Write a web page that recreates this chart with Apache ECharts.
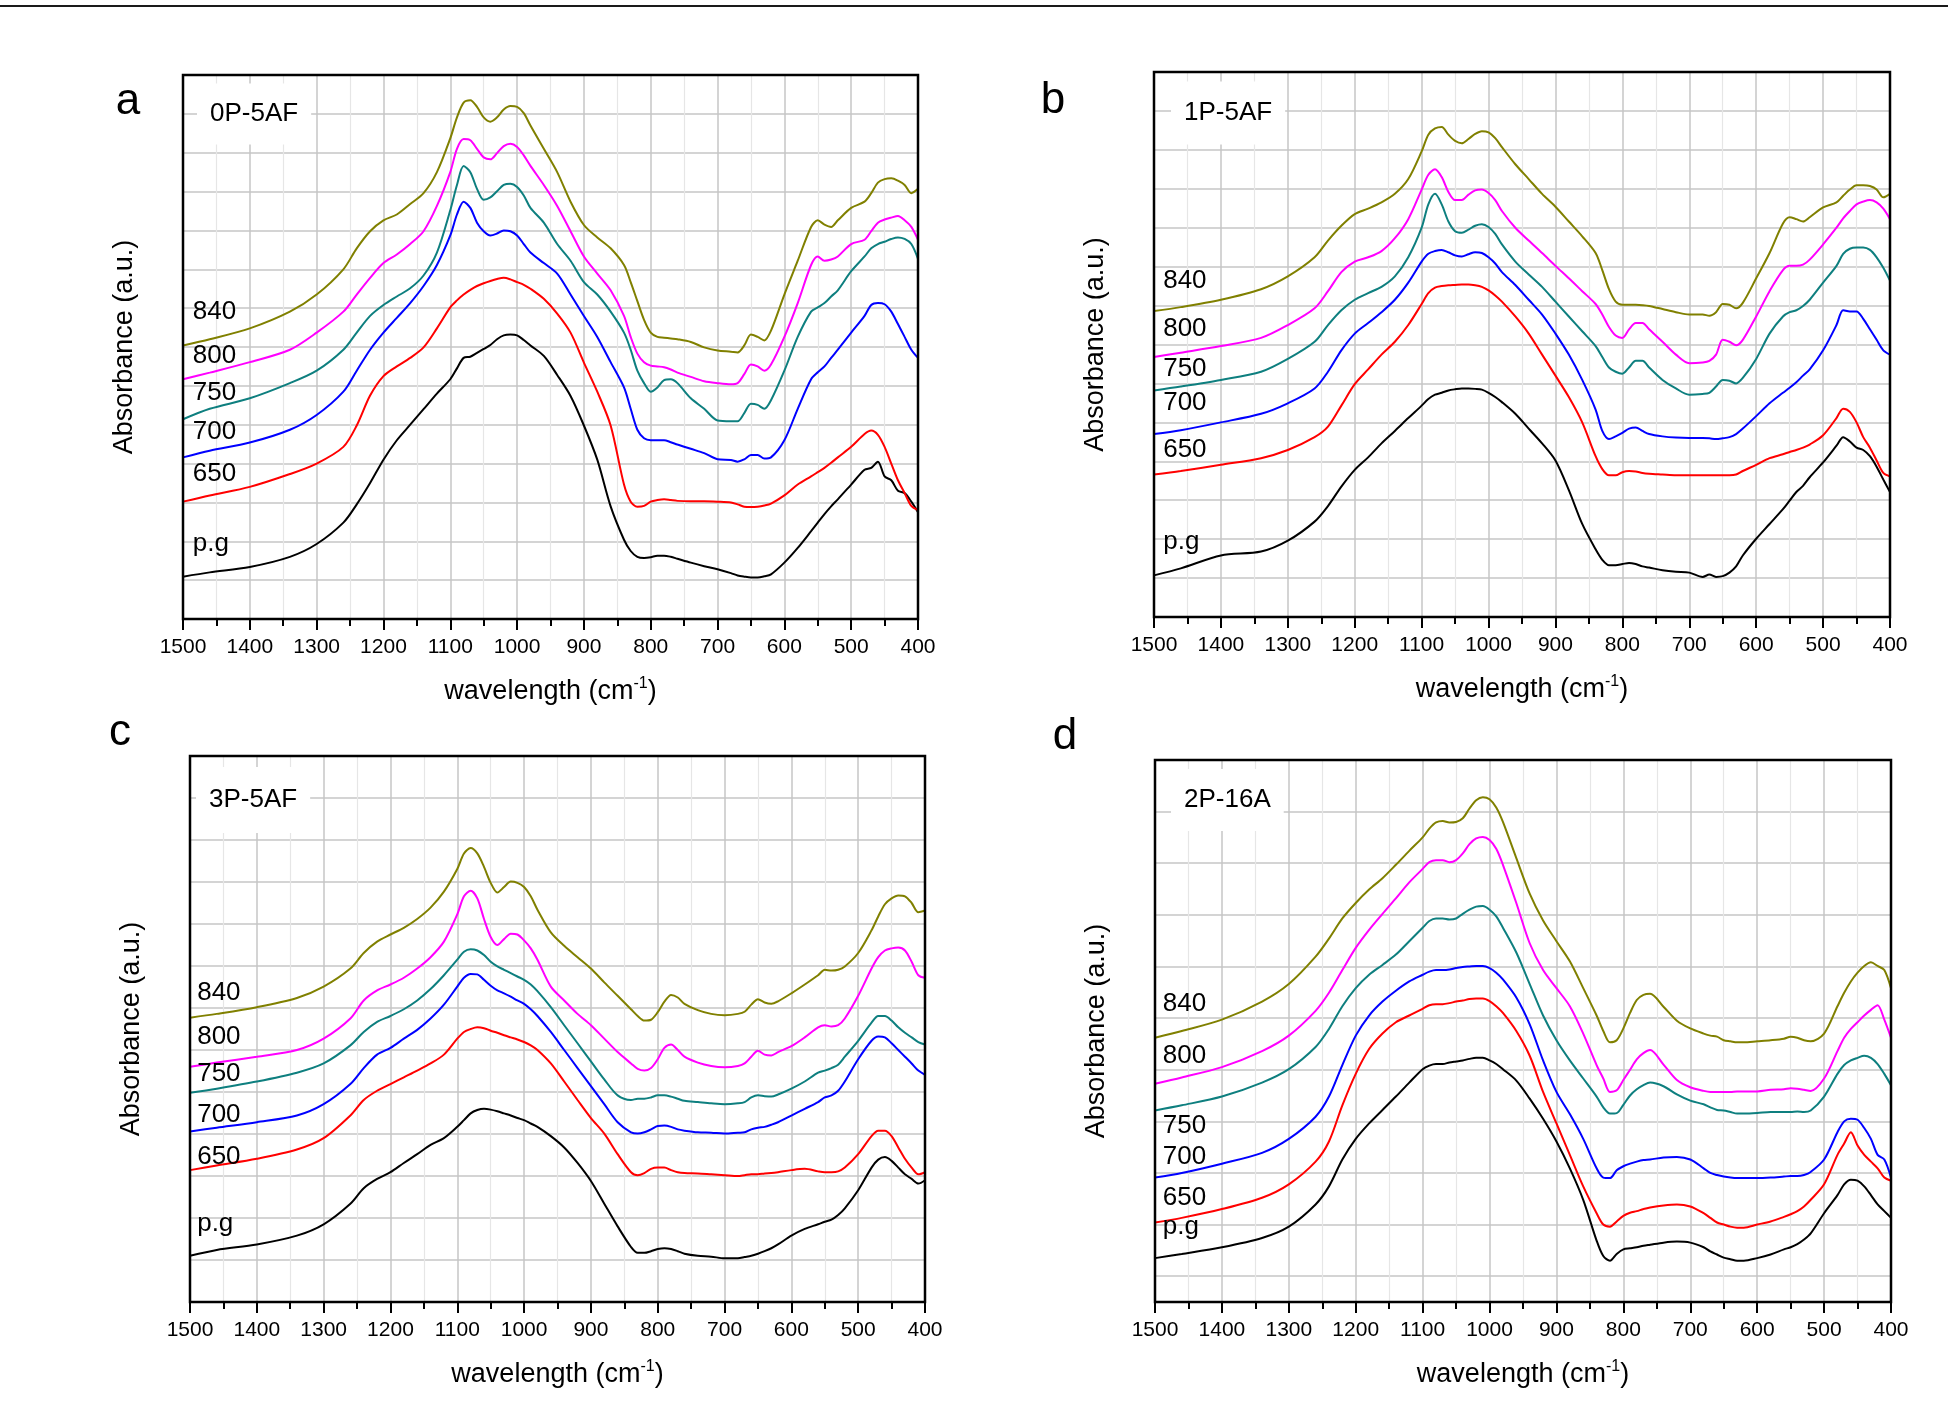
<!DOCTYPE html>
<html><head><meta charset="utf-8">
<script src="https://cdn.jsdelivr.net/npm/echarts@6/dist/echarts.min.js"></script>
<style>html,body{margin:0;padding:0;background:#fff}#c{width:1948px;height:1406px}</style>
</head><body><div id="c"></div>
<script>
// wavenumber sample positions (cm-1)
const X = [1500,1460,1400,1340,1300,1260,1240,1220,1200,1180,1160,1140,1120,1100,1090,1080,1070,1060,1050,1040,1030,1020,1010,1000,990,980,960,940,920,900,880,860,840,830,820,810,800,790,780,770,760,740,720,700,680,670,660,650,640,630,620,600,580,560,550,540,530,520,500,480,470,460,450,440,430,420,410,400];
const X_TICKS = [1500,1400,1300,1200,1100,1000,900,800,700,600,500,400];
const SERIES_NAMES = ['p.g','650','700','750','800','840'];

// Panel a: 0P-5AF
const A_PG  = [1.09,1.2,1.34,1.6,1.93, 2.48,2.95,3.5,4.1,4.6,5.0,5.4,5.8,6.17, 6.45,6.72,6.75,6.85,6.95,7.05,7.2,7.3,7.32,7.3,7.18,7.04, 6.77,6.28,5.74,4.98,4.1,2.9,2.04, 1.75,1.6,1.57,1.59,1.63,1.63,1.6,1.55, 1.45,1.36,1.28,1.18, 1.12,1.09,1.07,1.07,1.1,1.15, 1.45,1.83,2.26,2.48,2.7,2.9,3.08, 3.46,3.84,3.89,4.05,3.67,3.57,3.3,3.24,3.02,2.75];
const A_650 = [3.02,3.18,3.4,3.73,4.0, 4.43,4.98,5.75,6.25,6.5,6.72,6.99,7.48,8.02, 8.2,8.35,8.47,8.57,8.64,8.7,8.75,8.78,8.74,8.67,8.6,8.5, 8.24,7.86,7.37,6.6,5.85,4.98,3.46, 3.02,2.89,2.91,3.02,3.06,3.08,3.06,3.04, 3.03,3.03,3.02,3.0, 2.95,2.89,2.88,2.89,2.92,2.97, 3.18,3.46,3.67,3.78,3.89,4.02,4.16, 4.43,4.76,4.85,4.74,4.43,4.0,3.57,3.24,2.91,2.8];
const A_700 = [4.16,4.33,4.54,4.87,5.25, 5.85,6.39,6.93,7.37,7.75,8.13,8.57,9.11,9.87, 10.41,10.74,10.58,10.2,9.98,9.87,9.92,10.0,9.98,9.87,9.65,9.43, 9.16,8.89,8.35,7.8,7.26,6.61,5.96, 5.41,4.87,4.65,4.6,4.6,4.6,4.55,4.49, 4.38,4.27,4.11,4.09, 4.05,4.11,4.22,4.22,4.13,4.16, 4.6,5.41,6.17,6.35,6.5,6.72,6.93, 7.37,7.8,8.08,8.13,8.1,7.91,7.59,7.26,6.93,6.72];
const A_750 = [5.14,5.41,5.68,6.07,6.39, 6.93,7.37,7.8,8.08,8.3,8.51,8.84,9.43,10.52, 11.17,11.66,11.5,11.07,10.79,10.85,11.01,11.17,11.2,11.12,10.9,10.58, 10.2,9.65,9.22,8.67,8.35,7.91,7.37, 6.93,6.39,6.07,5.85,5.96,6.15,6.17,6.07, 5.68,5.41,5.11,5.09, 5.09,5.3,5.54,5.51,5.41,5.63, 6.39,7.26,7.91,8.02,8.13,8.3,8.46, 8.95,9.33,9.54,9.65,9.71,9.78,9.82,9.78,9.65,9.27];
const A_800 = [6.17,6.34,6.61,6.93,7.37, 7.91,8.35,8.78,9.16,9.38,9.65,9.98,10.63,11.5, 12.1,12.35,12.32,12.1,11.88,11.83,11.99,12.17,12.23,12.15,11.93,11.66, 11.17,10.63,9.98,9.33,8.89,8.46,7.8, 7.26,6.83,6.61,6.52,6.5,6.48,6.42,6.34, 6.23,6.12,6.07,6.04, 6.07,6.3,6.55,6.5,6.39,6.55, 7.26,8.13,9.11,9.33,9.22,9.25,9.33, 9.65,9.76,9.98,10.2,10.28,10.33,10.37,10.26,10.09,9.76];
const A_840 = [7.04,7.2,7.48,7.91,8.35, 9.0,9.54,9.98,10.26,10.41,10.68,10.96,11.5,12.37, 12.91,13.29,13.35,13.18,12.91,12.8,12.91,13.11,13.2,13.18,13.02,12.7, 12.1,11.5,10.74,10.14,9.82,9.54,9.11, 8.67,8.18,7.7,7.37,7.26,7.24,7.22,7.2, 7.13,6.99,6.91,6.88, 6.86,7.04,7.32,7.26,7.17,7.42, 8.35,9.22,10.09,10.26,10.15,10.09,10.26, 10.58,10.74,10.96,11.23,11.32,11.34,11.28,11.17,10.96,11.07];

// Panel b: 1P-5AF
const B_PG  = [1.07,1.25,1.58,1.68,1.96, 2.45,2.85,3.35,3.78,4.1,4.46,4.78,5.11,5.43, 5.6,5.71,5.76,5.82,5.85,5.87,5.87,5.86,5.84,5.76,5.65,5.52, 5.22,4.84,4.46,4.02,3.26,2.39,1.74, 1.47,1.33,1.33,1.36,1.39,1.36,1.3,1.27, 1.2,1.16,1.14,1.03, 1.09,1.03,1.05,1.14,1.3,1.58, 2.01,2.39,2.77,2.99,3.21,3.37,3.59, 3.97,4.4,4.62,4.51,4.35,4.29,4.13,3.86,3.53,3.21];
const B_650 = [3.66,3.75,3.91,4.08,4.29, 4.62,4.89,5.43,5.98,6.36,6.74,7.07,7.5,8.04, 8.32,8.46,8.5,8.52,8.53,8.54,8.54,8.52,8.48,8.39,8.26,8.1, 7.72,7.28,6.74,6.2,5.65,5.0,4.13, 3.8,3.64,3.64,3.72,3.75,3.74,3.7,3.68, 3.66,3.64,3.64,3.64, 3.64,3.64,3.64,3.64,3.66,3.75, 3.91,4.08,4.18,4.24,4.29,4.35,4.43, 4.67,5.11,5.35,5.27,5.0,4.62,4.35,4.02,3.7,3.61];
const B_700 = [4.7,4.8,5.0,5.22,5.49, 5.87,6.3,6.85,7.28,7.55,7.83,8.15,8.59,9.13, 9.33,9.4,9.43,9.37,9.29,9.26,9.32,9.37,9.35,9.24,9.08,8.86, 8.53,8.15,7.77,7.28,6.74,6.09,5.33, 4.78,4.57,4.64,4.73,4.84,4.87,4.78,4.7, 4.64,4.61,4.6,4.6, 4.59,4.57,4.59,4.62,4.7,4.84, 5.16,5.49,5.76,5.89,6.03,6.2,6.36, 6.85,7.5,7.88,7.85,7.85,7.66,7.39,7.12,6.85,6.74];
const B_750 = [5.82,5.92,6.09,6.3,6.63, 7.07,7.5,7.88,8.15,8.32,8.48,8.75,9.24,10.0, 10.6,10.87,10.6,10.16,9.91,9.87,9.95,10.05,10.09,10.02,9.84,9.57, 9.13,8.8,8.48,8.1,7.72,7.34,6.96, 6.68,6.41,6.3,6.25,6.41,6.58,6.58,6.41, 6.09,5.87,5.71,5.73, 5.76,5.92,6.09,6.07,6.0,6.14, 6.63,7.28,7.72,7.83,7.88,7.99,8.15, 8.59,9.02,9.33,9.46,9.49,9.49,9.43,9.24,8.97,8.64];
const B_800 = [6.68,6.79,6.96,7.17,7.5, 7.93,8.37,8.86,9.13,9.24,9.4,9.73,10.22,10.98, 11.36,11.5,11.3,10.92,10.71,10.71,10.85,10.96,10.98,10.89,10.71,10.43, 10.0,9.67,9.35,9.02,8.7,8.37,8.04, 7.77,7.45,7.23,7.17,7.39,7.55,7.55,7.39, 7.07,6.74,6.52,6.54, 6.58,6.74,7.12,7.07,6.98,7.12, 7.72,8.37,8.91,9.02,9.02,9.05,9.18, 9.57,10.0,10.24,10.43,10.6,10.67,10.71,10.65,10.49,10.22];
const B_840 = [7.86,7.96,8.15,8.42,8.75, 9.24,9.67,10.05,10.35,10.49,10.65,10.87,11.25,11.96, 12.39,12.55,12.59,12.39,12.23,12.17,12.28,12.41,12.48,12.45,12.3,12.07, 11.63,11.25,10.87,10.54,10.16,9.78,9.35, 8.91,8.42,8.1,8.02,8.02,8.02,8.01,7.99, 7.91,7.83,7.77,7.77, 7.74,7.83,8.04,8.02,7.93,8.07, 8.7,9.35,10.11,10.27,10.22,10.16,10.27, 10.52,10.65,10.82,10.98,11.09,11.09,11.07,10.98,10.78,10.87];

// Panel c: 3P-5AF
const C_PG  = [1.1,1.24,1.37,1.58,1.85, 2.34,2.71,2.93,3.09,3.31,3.52,3.74,3.9,4.17, 4.33,4.49,4.57,4.6,4.58,4.54,4.49,4.44,4.38,4.33,4.25,4.17, 3.95,3.68,3.31,2.88,2.34,1.8,1.31, 1.17,1.17,1.21,1.26,1.28,1.26,1.21,1.15, 1.1,1.08,1.04,1.04, 1.07,1.1,1.15,1.21,1.28,1.37, 1.58,1.74,1.85,1.91,1.96,2.07,2.23, 2.66,3.2,3.39,3.45,3.36,3.2,3.04,2.93,2.82,2.9];
const C_650 = [3.14,3.25,3.41,3.63,3.9, 4.44,4.81,5.03,5.19,5.35,5.51,5.68,5.89,6.27, 6.43,6.5,6.54,6.52,6.46,6.41,6.35,6.3,6.25,6.19,6.11,6.0, 5.68,5.25,4.81,4.38,4.01,3.52,3.09, 3.02,3.07,3.17,3.2,3.2,3.14,3.09,3.07, 3.06,3.04,3.02,3.0, 3.02,3.04,3.04,3.06,3.07,3.09, 3.14,3.17,3.11,3.09,3.09,3.11,3.2, 3.52,3.95,4.08,4.08,3.95,3.68,3.41,3.2,3.04,3.09];
const C_700 = [4.06,4.15,4.28,4.44,4.71, 5.19,5.57,5.89,6.05,6.27,6.48,6.75,7.08,7.51, 7.72,7.81,7.8,7.67,7.53,7.42,7.35,7.27,7.18,7.1,6.97,6.81, 6.43,6.0,5.57,5.14,4.71,4.28,4.04, 4.01,4.04,4.11,4.19,4.2,4.17,4.11,4.08, 4.04,4.03,4.01,4.03, 4.04,4.11,4.15,4.17,4.22,4.28, 4.44,4.6,4.76,4.87,4.92,5.03,5.25, 5.78,6.22,6.32,6.3,6.16,6.0,5.84,5.68,5.51,5.41];
const C_750 = [4.98,5.08,5.25,5.46,5.68, 6.11,6.43,6.67,6.81,6.97,7.18,7.45,7.78,8.15, 8.34,8.4,8.37,8.26,8.1,7.99,7.91,7.83,7.75,7.67,7.56,7.4, 7.02,6.59,6.16,5.73,5.3,4.92,4.81, 4.84,4.84,4.87,4.92,4.92,4.89,4.84,4.79, 4.76,4.73,4.71,4.73, 4.76,4.87,4.92,4.9,4.89,4.94, 5.08,5.25,5.46,5.51,5.57,5.65,5.84, 6.22,6.65,6.81,6.81,6.7,6.54,6.41,6.3,6.19,6.13];
const C_800 = [5.6,5.7,5.84,6.0,6.27, 6.75,7.18,7.42,7.56,7.72,7.94,8.21,8.58,9.23, 9.66,9.79,9.61,9.12,8.69,8.5,8.64,8.77,8.75,8.61,8.42,8.15, 7.51,7.18,6.86,6.59,6.27,5.95,5.68, 5.55,5.51,5.57,5.78,6.05,6.13,6.0,5.84, 5.7,5.62,5.59,5.62, 5.68,5.84,5.98,5.89,5.87,5.95, 6.09,6.3,6.54,6.59,6.56,6.59,6.75, 7.29,7.94,8.21,8.37,8.42,8.44,8.37,8.1,7.78,7.72];
const C_840 = [6.77,6.86,7.02,7.24,7.51, 7.94,8.31,8.58,8.75,8.91,9.12,9.39,9.77,10.31, 10.68,10.81,10.68,10.36,9.98,9.75,9.88,10.01,9.98,9.88,9.66,9.34, 8.8,8.48,8.21,7.94,7.61,7.29,6.97, 6.81,6.7,6.72,6.9,7.15,7.31,7.25,7.1, 6.95,6.86,6.83,6.86, 6.91,7.08,7.21,7.13,7.1,7.16, 7.35,7.56,7.78,7.91,7.89,7.91,7.99, 8.31,8.85,9.18,9.47,9.61,9.68,9.66,9.5,9.28,9.32];

// Panel d: 2P-16A
const D_PG  = [0.85,0.93,1.06,1.24,1.46, 1.89,2.24,2.76,3.16,3.46,3.72,3.98,4.25,4.51, 4.58,4.61,4.61,4.64,4.66,4.68,4.71,4.73,4.73,4.68,4.61,4.51, 4.29,3.94,3.55,3.11,2.59,1.98,1.19, 0.89,0.8,0.93,1.02,1.04,1.06,1.09,1.11, 1.15,1.17,1.15,1.06, 0.98,0.92,0.86,0.83,0.8,0.8, 0.85,0.92,1.02,1.06,1.12,1.21,1.33, 1.72,2.07,2.28,2.37,2.35,2.24,2.07,1.89,1.76,1.63];
const D_650 = [1.54,1.63,1.8,2.02,2.28, 2.72,3.11,3.81,4.42,4.9,5.2,5.42,5.55,5.68, 5.75,5.77,5.77,5.79,5.82,5.84,5.87,5.88,5.88,5.83,5.73,5.6, 5.25,4.77,4.07,3.46,2.85,2.24,1.72, 1.5,1.46,1.56,1.67,1.73,1.76,1.8,1.83, 1.87,1.89,1.85,1.72, 1.63,1.54,1.5,1.46,1.44,1.44, 1.5,1.56,1.65,1.7,1.76,1.85,1.98, 2.28,2.85,3.07,3.29,3.03,2.85,2.72,2.59,2.41,2.35];
const D_700 = [2.41,2.5,2.68,2.89,3.16, 3.59,3.98,4.59,5.16,5.55,5.82,6.03,6.21,6.34, 6.4,6.43,6.43,6.44,6.47,6.49,6.5,6.51,6.51,6.47,6.38,6.25, 5.9,5.38,4.68,4.07,3.64,3.16,2.59, 2.41,2.4,2.55,2.63,2.68,2.72,2.75,2.76, 2.8,2.81,2.76,2.59, 2.5,2.46,2.43,2.41,2.4,2.4, 2.4,2.41,2.43,2.44,2.44,2.46,2.52, 2.76,3.29,3.5,3.55,3.53,3.37,3.16,2.85,2.76,2.41];
const D_750 = [3.71,3.81,3.98,4.25,4.51, 4.94,5.29,5.73,6.08,6.34,6.53,6.73,6.99,7.25, 7.38,7.43,7.43,7.41,7.43,7.52,7.6,7.66,7.67,7.6,7.47,7.25, 6.77,6.16,5.55,5.07,4.68,4.33,3.98, 3.77,3.65,3.66,3.82,4.0,4.12,4.2,4.25, 4.18,4.02,3.9,3.83, 3.77,3.72,3.71,3.68,3.65,3.65, 3.66,3.68,3.68,3.68,3.69,3.68,3.71, 3.98,4.42,4.59,4.68,4.73,4.77,4.73,4.61,4.42,4.2];
const D_800 = [4.23,4.35,4.55,4.86,5.16, 5.64,5.99,6.43,6.86,7.21,7.52,7.82,8.13,8.39, 8.52,8.56,8.56,8.52,8.56,8.69,8.87,8.98,9.01,8.95,8.78,8.47, 7.73,6.95,6.43,6.08,5.73,5.2,4.59, 4.33,4.07,4.1,4.3,4.5,4.7,4.82,4.88, 4.6,4.3,4.16,4.09, 4.07,4.07,4.07,4.07,4.08,4.08, 4.08,4.11,4.12,4.14,4.13,4.11,4.09, 4.33,4.86,5.12,5.29,5.42,5.55,5.66,5.75,5.47,5.12];
const D_840 = [5.12,5.25,5.47,5.82,6.16, 6.69,7.04,7.43,7.73,7.99,8.21,8.47,8.74,9.0, 9.17,9.29,9.32,9.29,9.3,9.37,9.56,9.72,9.78,9.74,9.58,9.3, 8.6,7.91,7.39,6.99,6.6,6.08,5.55, 5.25,5.03,5.07,5.3,5.6,5.85,5.95,5.97, 5.72,5.45,5.3,5.2, 5.16,5.14,5.07,5.05,5.03,5.03, 5.05,5.07,5.1,5.14,5.12,5.07,5.05, 5.2,5.73,5.99,6.21,6.38,6.51,6.58,6.51,6.43,6.08];

// curve tag anchors (data units): x, then y for p.g, 650, 700, 750, 800, 840
const A_TAG_X = 1486, A_TAG_Y = [1.93, 3.73, 4.81, 5.82, 6.77, 7.9];
const B_TAG_X = 1487, B_TAG_Y = [1.92, 4.29, 5.49, 6.38, 7.39, 8.64];
const C_TAG_X = 1490, C_TAG_Y = [1.87, 3.45, 4.45, 5.43, 6.32, 7.37];
const D_TAG_X = 1489, D_TAG_Y = [1.46, 2.02, 2.82, 3.42, 4.77, 5.77];

const PANEL_TITLES = ['0P-5AF', '1P-5AF', '3P-5AF', '2P-16A'];
const PANEL_LETTERS = ['a', 'b', 'c', 'd'];

const COLORS = ['#000000', '#ff0000', '#0000ff', '#0e7f7f', '#ff00ff', '#808000'];
const FONT = '"Liberation Sans", Arial, Helvetica, sans-serif';

const GRIDS = [
  {left: 183, top: 75, width: 735, height: 544},
  {left: 1154, top: 72, width: 736, height: 545},
  {left: 190, top: 756, width: 735, height: 546},
  {left: 1155, top: 760, width: 736, height: 542}
];
const PANELS = [
  {data: [A_PG, A_650, A_700, A_750, A_800, A_840], tagX: A_TAG_X, tagY: A_TAG_Y, yMax: 14},
  {data: [B_PG, B_650, B_700, B_750, B_800, B_840], tagX: B_TAG_X, tagY: B_TAG_Y, yMax: 14},
  {data: [C_PG, C_650, C_700, C_750, C_800, C_840], tagX: C_TAG_X, tagY: C_TAG_Y, yMax: 13},
  {data: [D_PG, D_650, D_700, D_750, D_800, D_840], tagX: D_TAG_X, tagY: D_TAG_Y, yMax: 10.5}
];

const chart = echarts.init(document.getElementById('c'), null, {renderer: 'canvas'});

const grid = GRIDS.map(g => Object.assign({containLabel: false}, g));
const xAxis = GRIDS.map((g, i) => ({
  type: 'value', gridIndex: i, min: 400, max: 1500, interval: 100, inverse: true,
  name: '{t|wavelength (cm}{s|-1}{t|)}', nameLocation: 'middle', nameGap: 57,
  nameTextStyle: {rich: {
    t: {fontSize: 27, color: '#000', fontFamily: FONT, lineHeight: 32},
    s: {fontSize: 16, color: '#000', fontFamily: FONT, verticalAlign: 'top', lineHeight: 16}
  }},
  axisLine: {show: true, onZero: false, lineStyle: {color: '#000', width: 2}},
  axisTick: {show: true, length: 11, lineStyle: {color: '#000', width: 2}},
  minorTick: {show: true, splitNumber: 2, length: 7, lineStyle: {color: '#000', width: 2}},
  axisLabel: {show: true, margin: 18, fontSize: 21, color: '#000', fontFamily: FONT,
    showMinLabel: true, showMaxLabel: true,
    formatter: v => (X_TICKS.indexOf(v) >= 0 ? String(v) : '')},
  splitLine: {show: true, lineStyle: {color: '#c6c6c6', width: 1.5}},
  minorSplitLine: {show: true, lineStyle: {color: '#e6e6e6', width: 1.2}}
}));

const yAxis = PANELS.map((p, i) => {
  const base = {
    type: 'value', gridIndex: i, min: 0, max: p.yMax,
    name: 'Absorbance (a.u.)', nameLocation: 'middle', nameGap: 45, nameRotate: 90,
    nameTextStyle: {fontSize: 27, color: '#000', fontFamily: FONT},
    axisLine: {show: false}, axisTick: {show: false}, axisLabel: {show: false}
  };
  if (Number.isInteger(p.yMax)) {
    base.interval = 1;
    base.splitLine = {show: true, lineStyle: {color: '#c6c6c6', width: 1.5}};
  } else {
    base.splitLine = {show: false};
  }
  return base;
});
// panel d: horizontal grid lines counted from the top edge
yAxis.push({
  type: 'value', gridIndex: 3, min: 0, max: 10.5, interval: 1, inverse: true,
  axisLine: {show: false}, axisTick: {show: false}, axisLabel: {show: false},
  splitLine: {show: true, lineStyle: {color: '#c6c6c6', width: 1.5}}
});

const series = [];
PANELS.forEach((p, pi) => {
  p.data.forEach((arr, si) => {
    series.push({
      type: 'line', name: PANEL_TITLES[pi] + ' ' + SERIES_NAMES[si],
      xAxisIndex: pi, yAxisIndex: pi,
      data: X.map((x, k) => [x, arr[k]]),
      showSymbol: false, symbol: 'none', smooth: 0.3,
      lineStyle: {color: COLORS[si], width: 2},
      itemStyle: {color: COLORS[si]},
      z: 3,
      silent: true,
      markPoint: {
        symbol: 'rect', symbolSize: 1, silent: true,
        itemStyle: {color: 'rgba(0,0,0,0)'},
        label: {show: true, position: 'right', distance: 0, fontSize: 26, color: '#000', fontFamily: FONT,
          formatter: SERIES_NAMES[si]},
        data: [{coord: [p.tagX, p.tagY[si]]}]
      }
    });
  });
});

const graphic = [
  {type: 'line', shape: {x1: 0, y1: 6, x2: 1948, y2: 6}, style: {stroke: '#1a1a1a', lineWidth: 2}, z: 10}
];
const TITLE_POS = [[197, 114], [1171, 113], [196, 800], [1171, 800]];
const LETTER_POS = [[128, 102], [1053, 101], [120, 733], [1065, 737]];
GRIDS.forEach((g, i) => {
  graphic.push({type: 'rect', shape: {x: g.left, y: g.top, width: g.width, height: g.height},
    style: {fill: 'none', stroke: '#000', lineWidth: 2.5}, z: 20, silent: true});
  graphic.push({type: 'text', x: TITLE_POS[i][0], y: TITLE_POS[i][1], z: 1,
    style: {text: PANEL_TITLES[i], fontSize: 26, fill: '#000', fontFamily: FONT,
      textAlign: 'left', textVerticalAlign: 'middle', backgroundColor: '#fff',
      padding: [Math.max(0, TITLE_POS[i][1] - 13 - g.top), 13, 9, 13]}});
  graphic.push({type: 'text', x: LETTER_POS[i][0], y: LETTER_POS[i][1], z: 10,
    style: {text: PANEL_LETTERS[i], fontSize: 44, fill: '#000', fontFamily: FONT,
      textAlign: 'center', textVerticalAlign: 'middle'}});
});

chart.setOption({
  backgroundColor: '#ffffff',
  animation: false,
  grid, xAxis, yAxis, series, graphic
});
</script>
</body></html>
